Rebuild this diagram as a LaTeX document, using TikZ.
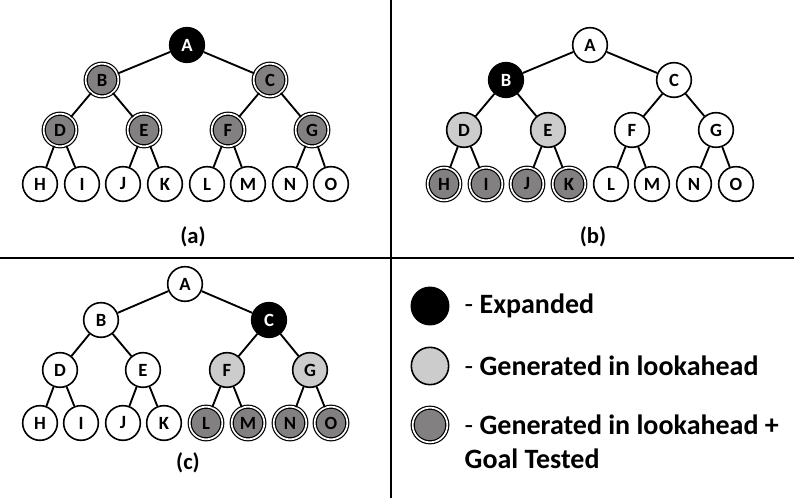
\documentclass[tikz,border=0pt]{standalone}
\usepackage{fontspec}
\setmainfont{Carlito}
\definecolor{lightgr}{HTML}{CCCCCC}
\definecolor{darkgr}{HTML}{828080}
\tikzset{
  st/.style={circle, draw, line width=1.2pt, minimum size=26pt, inner sep=0pt, font=\fontsize{14}{16}\selectfont\bfseries},
  pl/.style={st, fill=white},
  ex/.style={st, fill=black, text=white},
  la/.style={st, fill=lightgr},
  gt/.style={st, fill=darkgr, double=white, double distance=1.3pt, line width=0.9pt, minimum size=24.5pt},
  edge/.style={line width=1.4pt},
  panellabel/.style={font=\fontsize{17}{20}\selectfont\bfseries},
  key/.style={anchor=west, font=\fontsize{21}{24}\selectfont\bfseries}
}
\newcommand{\searchtree}[4]{%
  \begin{scope}[shift={(#2,#3)}]
    \foreach \n/\xx/\yy/\s [count=\i] in {#4}
      \node[\s] (#1\n) at (\xx,\yy) {\n};
    \foreach \p/\c in {A/B,A/C,B/D,B/E,C/F,C/G,D/H,D/I,E/J,E/K,F/L,F/M,G/N,G/O}
      \draw[edge] (#1\p) -- (#1\c);
  \end{scope}}
\begin{document}
\begin{tikzpicture}[x=0.75pt,y=-0.75pt]
	\useasboundingbox (0,0) rectangle (794,498);

	%Panel separators
	\draw[line width=1.2pt] (391,0) -- (391,498);
	\draw[line width=1.2pt] (0,258) -- (794,258);

	%(a)
	\searchtree{a}{187}{45}{A/0/0/ex, B/-85/35/gt, C/83/35/gt,
	  D/-127/85/gt, E/-43/85/gt, F/41/85/gt, G/125/85/gt,
	  H/-147/139/pl, I/-105/139/pl, J/-64/139/pl, K/-22/139/pl,
	  L/20/139/pl, M/61/139/pl, N/103/139/pl, O/144/139/pl}
	\node[panellabel] (capa) at (193,237) {(a)};

	%(b)
	\searchtree{b}{590}{45}{A/0/0/pl, B/-84/35/ex, C/84/35/pl,
	  D/-126/85/la, E/-42/85/la, F/42/85/pl, G/126/85/pl,
	  H/-146/139/gt, I/-104/139/gt, J/-63/139/gt, K/-21/139/gt,
	  L/21/139/pl, M/62/139/pl, N/104/139/pl, O/146/139/pl}
	\node[panellabel] (capb) at (593,237) {(b)};

	%(c)
	\searchtree{c}{185}{284}{A/0/0/pl, B/-84/36/pl, C/84/36/ex,
	  D/-125/86/pl, E/-42/86/pl, F/42/86/la, G/125/86/la,
	  H/-145/139/pl, I/-104/139/pl, J/-62/139/pl, K/-21/139/pl,
	  L/21/139/gt, M/63/139/gt, N/105/139/gt, O/146/139/gt}
	\node[panellabel] (capc) at (188,463) {(c)};

	%Legend
	\node[ex, minimum size=28pt] (kex) at (430,306) {};
	\node[la, minimum size=28pt] (kla) at (430,366) {};
	\node[gt, minimum size=26pt] (kgt) at (430,425) {};
	\node[key] (tex) at (460,306) {\mdseries-\ \bfseries Expanded};
	\node[key] (tla) at (460,366) {\mdseries-\ \bfseries Generated in lookahead};
	\node[key] (tgt) at (460,425) {\mdseries-\ \bfseries Generated in lookahead +};
	\node[key] (tgt2) at (460,459) {Goal Tested};
\end{tikzpicture}
\end{document}
